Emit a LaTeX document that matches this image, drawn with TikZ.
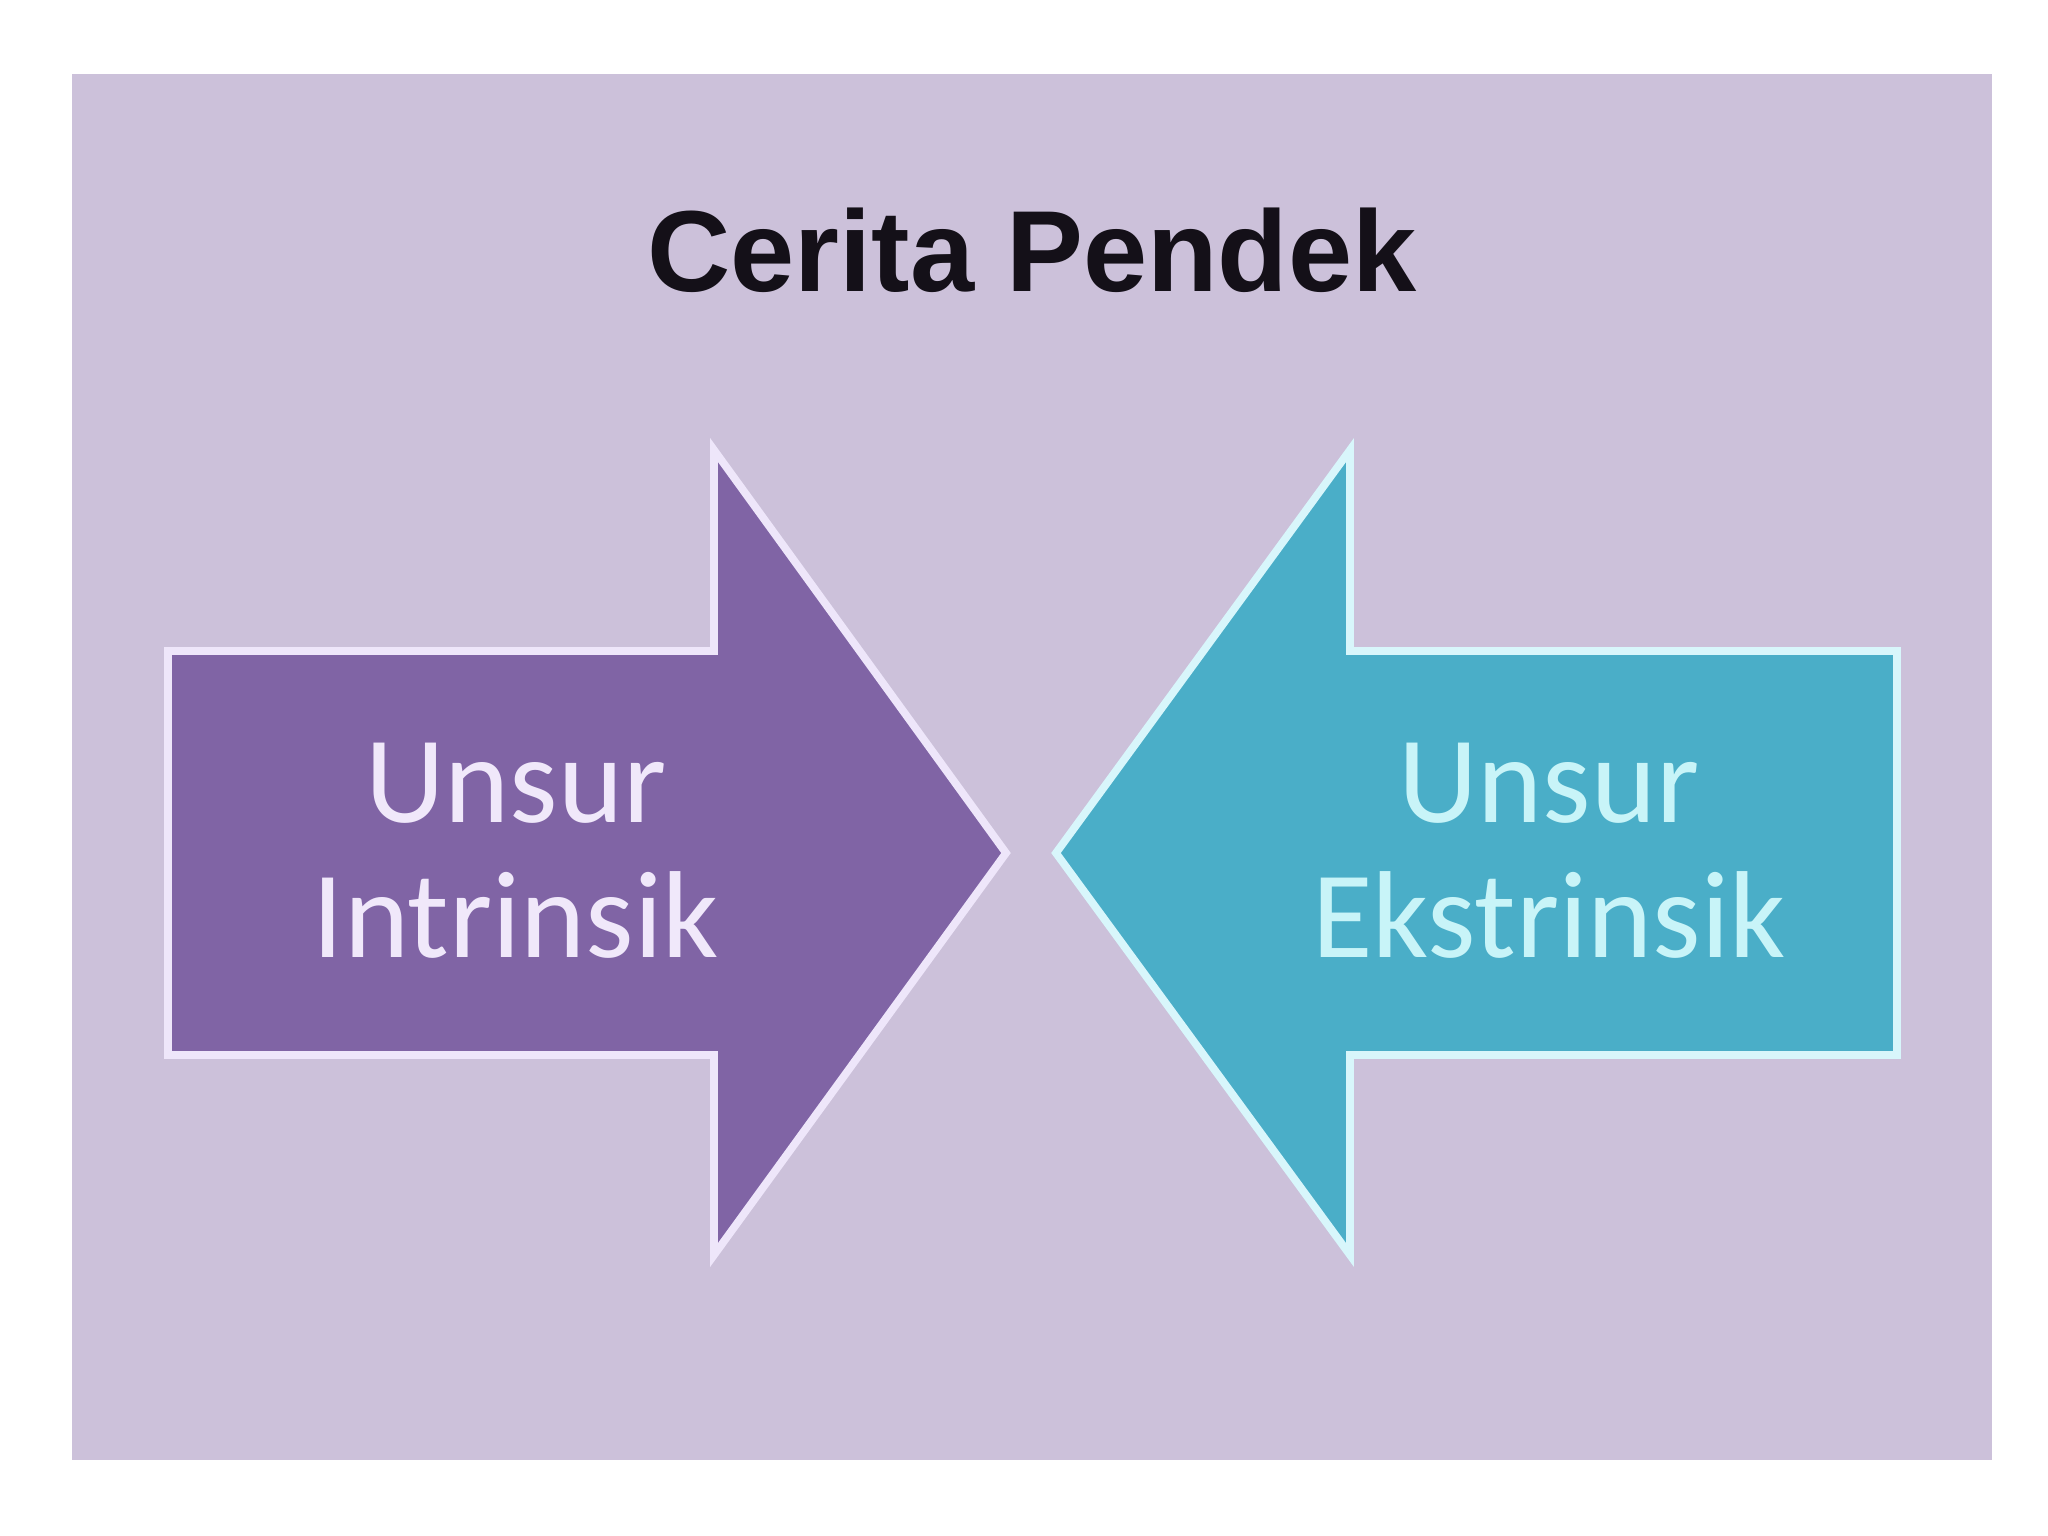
\documentclass[tikz,border=0pt]{standalone}
\usepackage{fontspec}
\setmainfont{Liberation Sans}
\newfontfamily\calibrifont{Carlito}
\definecolor{bglav}{HTML}{CCC1DA}
\definecolor{purplefill}{HTML}{8064A5}
\definecolor{tealfill}{HTML}{4AAEC8}
\definecolor{purpleline}{HTML}{EEE6FA}
\definecolor{tealline}{HTML}{D8F6FB}
\definecolor{purpletext}{HTML}{F0E8FA}
\definecolor{tealtext}{HTML}{C8F4F8}
\definecolor{titletext}{HTML}{141018}
\tikzset{
  arrowshape/.style={line width=2.2pt, line join=miter},
  labeltext/.style={font=\calibrifont\fontsize{35.2}{38.4}\selectfont, align=center, inner sep=0pt},
}
\begin{document}
\begin{tikzpicture}[x=0.01cm, y=-0.01cm]
  \useasboundingbox (0,0) rectangle (2048,1536);
  \fill[white] (0,0) rectangle (2048,1536);
  \fill[bglav] (72,74) rectangle (1992,1460);
  % title
  \node[font=\bfseries\fontsize{32.8}{36}\selectfont, text=titletext, inner sep=0pt] (title) at (1032,250) {Cerita Pendek};
  % left arrow
  \draw[arrowshape, fill=purplefill, draw=purpleline]
    (168,651) -- (714,651) -- (714,450) -- (1006,853) -- (714,1255) -- (714,1055) -- (168,1055) -- cycle;
  % right arrow
  \draw[arrowshape, fill=tealfill, draw=tealline]
    (1897,651) -- (1350,651) -- (1350,450) -- (1056,853) -- (1350,1255) -- (1350,1055) -- (1897,1055) -- cycle;
  \node[labeltext, text=purpletext] (intr) at (516,851) {Unsur\\Intrinsik};
  \node[labeltext, text=tealtext] (ekst) at (1549,851) {Unsur\\Ekstrinsik};
\end{tikzpicture}
\end{document}
